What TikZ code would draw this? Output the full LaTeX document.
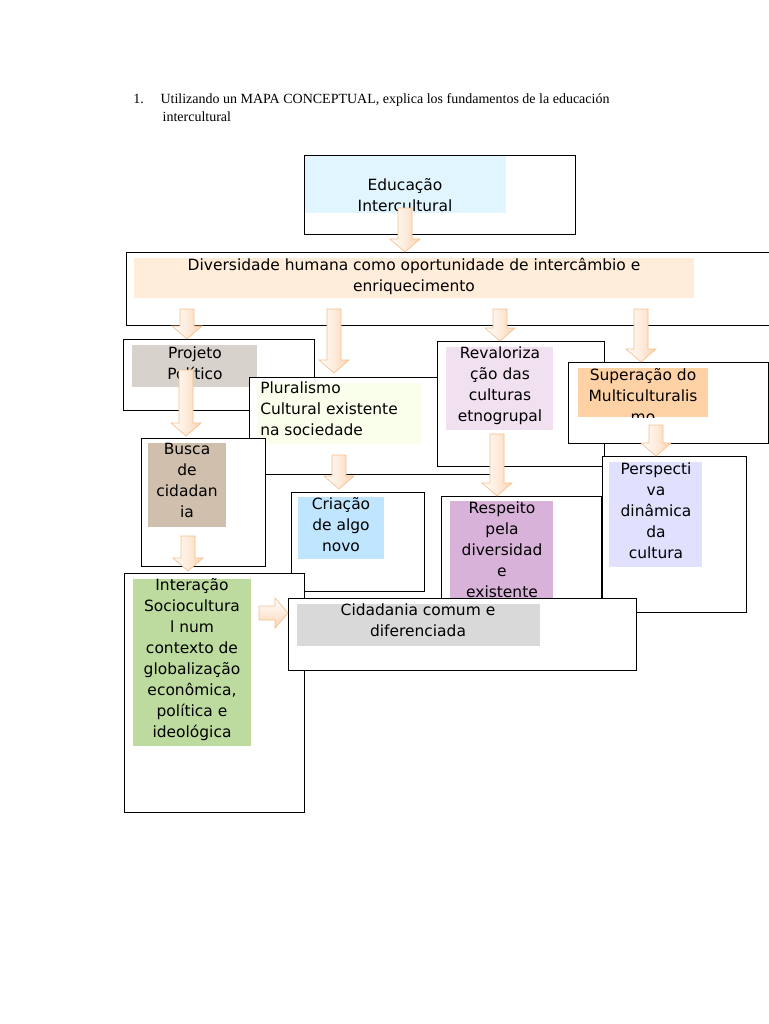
\documentclass[tikz,border=0pt]{standalone}
\usepackage{fontspec}
\setmainfont{DejaVu Sans}
\newfontfamily\serifr{Liberation Serif}
\definecolor{arrA}{HTML}{FBD3B0}
\definecolor{arrE}{HTML}{F5C08E}
\tikzset{outer/.style={draw=black,line width=0.8pt,fill=white},
 lbl/.style={inner sep=0pt,font=\fontsize{11.6}{15.75}\selectfont,align=center,anchor=north}}
\newcommand{\cbox}[9]{% name, x1,y1,x2,y2, ix1,iy1,ix2,iy2
 \node[outer,minimum width=#4-#2,minimum height=#5-#3,anchor=north west,inner sep=0pt] (#1) at (#2,#3) {};}
\newcommand{\inbox}[5]{\fill[#5] (#1,#2) rectangle (#3,#4);}
\newcommand{\dar}[3]{% x, y1, y2
 \shade[left color=white,right color=arrA,middle color=arrA!45,draw=arrE,line width=0.5pt]
 (#1-7,#2) -- (#1+7,#2) -- (#1+7,#3-13) -- (#1+15,#3-13) -- (#1,#3) -- (#1-15,#3-13) -- (#1-7,#3-13) -- cycle;}
\begin{document}
\begin{tikzpicture}[x=0.75pt,y=-0.75pt]
\useasboundingbox (0,0) rectangle (768,1024);
\node[anchor=north west,inner sep=0pt,align=left,font=\serifr\fontsize{10.5}{14}\selectfont] (q) at (133,93)
 {1.\hspace{1.2em}Utilizando un MAPA CONCEPTUAL, explica los fundamentos de la educación\\\hspace{2.1em}intercultural};
% Educacao
\cbox{edu}{304}{155}{507}{214}{0}{0}{0}{0}
\fill[cyan!12] (304.6,155.6) rectangle (506.4,213.4);
\begin{scope}\clip (304,155) rectangle (507,214);
\node[lbl] at (405,178) {Educação\\Intercultural};\end{scope}
% Diversidade
\cbox{div}{126}{252}{703}{307}{0}{0}{0}{0}
\inbox{134}{258}{694}{298}{orange!15}
\node[lbl] at (414,258) {Diversidade humana como oportunidade de intercâmbio e\\enriquecimento};
% Projeto
\cbox{pro}{123}{339}{266}{392}{0}{0}{0}{0}
\inbox{132}{345}{257}{387}{brown!25!gray!35}
\node[lbl] at (195,346) {Projeto\\Político};
% Pluralismo
\cbox{plu}{249}{377}{432}{450}{0}{0}{0}{0}
\inbox{257}{383}{422}{444}{green!30!yellow!8}
\node[lbl,anchor=north west,align=left] at (260,381) {Pluralismo\\Cultural existente\\na sociedade};
% Revaloriza
\cbox{rev}{437}{341}{562}{435}{0}{0}{0}{0}
\inbox{446}{347}{553}{430}{violet!12}
\node[lbl] at (500,346) {Revaloriza\\ção das\\culturas\\etnogrupal};
% Superacao
\cbox{sup}{568}{362}{718}{423}{0}{0}{0}{0}
\inbox{578}{368}{708}{417}{orange!35}
\begin{scope}\clip (578,368) rectangle (708,417);
\node[lbl] at (643,368) {Superação do\\Multiculturalis\\mo};\end{scope}
% Busca
\cbox{bus}{141}{438}{234}{534}{0}{0}{0}{0}
\inbox{148}{443}{226}{527}{brown!55!gray!50}
\node[lbl] at (187,443) {Busca\\de\\cidadan\\ia};
% Criacao
\cbox{cri}{291}{492}{391}{566}{0}{0}{0}{0}
\inbox{298}{497}{384}{559}{blue!40!cyan!25}
\node[lbl] at (341,497) {Criação\\de algo\\novo};
% Respeito
\cbox{res}{441}{496}{561}{611}{0}{0}{0}{0}
\inbox{450}{501}{553}{607}{violet!30}
\begin{scope}\clip (450,501) rectangle (553,607);
\node[lbl] at (502,501) {Respeito\\pela\\diversidad\\e\\existente};\end{scope}
% Perspectiva
\cbox{per}{602}{456}{710}{573}{0}{0}{0}{0}
\inbox{609}{462}{702}{567}{blue!12}
\node[lbl] at (656,462) {Perspecti\\va\\dinâmica\\da\\cultura};
% Interacao
\cbox{int}{124}{573}{259}{752}{0}{0}{0}{0}
\inbox{133}{579}{251}{746}{olive!40!green!35}
\node[lbl] at (192,578) {Interação\\Sociocultura\\l num\\contexto de\\globalização\\econômica,\\política e\\ideológica};
% Cidadania
\cbox{cid}{288}{598}{549}{652}{0}{0}{0}{0}
\inbox{297}{604}{540}{646}{gray!30}
\node[lbl] at (418,603) {Cidadania comum e\\diferenciada};
% arrows
\dar{405}{208}{252}
\dar{187}{309}{339}
\dar{334}{309}{373}
\dar{500}{309}{341}
\dar{641}{309}{362}
\dar{186}{370}{436}
\dar{339}{455}{489}
\dar{497}{434}{496}
\dar{656}{425}{456}
\dar{188}{536}{571}
\shade[top color=white,bottom color=arrA,middle color=arrA!45,draw=arrE,line width=0.5pt]
 (259,606) -- (275,606) -- (275,598) -- (288,613) -- (275,628) -- (275,620) -- (259,620) -- cycle;
\end{tikzpicture}
\end{document}
